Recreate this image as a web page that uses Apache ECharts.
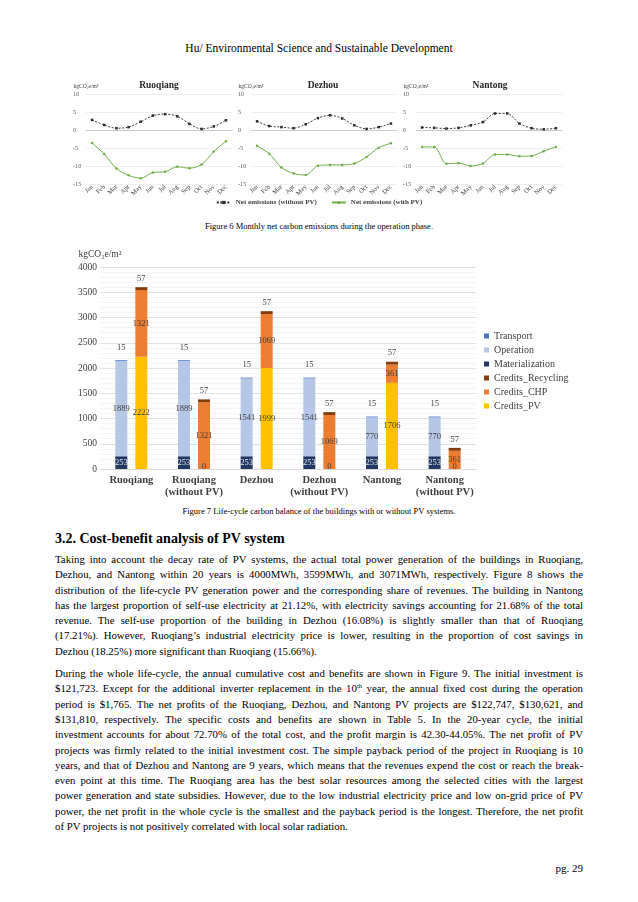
<!DOCTYPE html>
<html>
<head>
<meta charset="utf-8">
<script src="https://cdn.jsdelivr.net/npm/echarts@6/dist/echarts.min.js"></script>
<style>
html,body{margin:0;padding:0;background:#fff;}
#page{position:relative;width:638px;height:902px;overflow:hidden;font-family:"Liberation Serif","Times New Roman",serif;color:#000;}
.abs{position:absolute;}
.hdr{left:0;width:638px;text-align:center;font-size:11.5px;}
.cap{left:0;width:638px;text-align:center;font-size:8.5px;}
.h2{left:55px;font-size:14px;font-weight:bold;}
.body{left:55px;width:528px;font-size:10.8px;line-height:15.3px;}
.ln{white-space:nowrap;text-align:justify;text-align-last:justify;height:15.3px;overflow:visible;}
.ln.last{text-align-last:left;}
.gap{height:7px;}
sup{font-size:6.5px;line-height:0;vertical-align:4px;}
</style>
</head>
<body>
<div id="page">
  <div class="abs hdr" style="top:42px;">Hu/ Environmental Science and Sustainable Development</div>
  <div id="fig6" class="abs" style="left:0;top:60px;width:638px;height:160px;"></div>
  <div class="abs cap" style="top:221px;">Figure 6 Monthly net carbon emissions during the operation phase.</div>
  <div id="fig7" class="abs" style="left:0;top:240px;width:638px;height:265px;"></div>
  <div class="abs cap" style="top:506px;">Figure 7 Life-cycle carbon balance of the buildings with or without PV systems.</div>
  <div class="abs h2" style="top:531px;">3.2. Cost-benefit analysis of PV system</div>
  <div class="abs body" style="top:552px;">
    <div class="ln">Taking into account the decay rate of PV systems, the actual total power generation of the buildings in Ruoqiang,</div>
    <div class="ln">Dezhou, and Nantong within 20 years is 4000MWh, 3599MWh, and 3071MWh, respectively. Figure 8 shows the</div>
    <div class="ln">distribution of the life-cycle PV generation power and the corresponding share of revenues. The building in Nantong</div>
    <div class="ln">has the largest proportion of self-use electricity at 21.12%, with electricity savings accounting for 21.68% of the total</div>
    <div class="ln">revenue. The self-use proportion of the building in Dezhou (16.08%) is slightly smaller than that of Ruoqiang</div>
    <div class="ln">(17.21%). However, Ruoqiang’s industrial electricity price is lower, resulting in the proportion of cost savings in</div>
    <div class="ln last">Dezhou (18.25%) more significant than Ruoqiang (15.66%).</div>
    <div class="gap"></div>
    <div class="ln">During the whole life-cycle, the annual cumulative cost and benefits are shown in Figure 9. The initial investment is</div>
    <div class="ln">$121,723. Except for the additional inverter replacement in the 10<sup>th</sup> year, the annual fixed cost during the operation</div>
    <div class="ln">period is $1,765. The net profits of the Ruoqiang, Dezhou, and Nantong PV projects are $122,747, $130,621, and</div>
    <div class="ln">$131,810, respectively. The specific costs and benefits are shown in Table 5. In the 20-year cycle, the initial</div>
    <div class="ln">investment accounts for about 72.70% of the total cost, and the profit margin is 42.30-44.05%. The net profit of PV</div>
    <div class="ln">projects was firmly related to the initial investment cost. The simple payback period of the project in Ruoqiang is 10</div>
    <div class="ln">years, and that of Dezhou and Nantong are 9 years, which means that the revenues expend the cost or reach the break-</div>
    <div class="ln">even point at this time. The Ruoqiang area has the best solar resources among the selected cities with the largest</div>
    <div class="ln">power generation and state subsidies. However, due to the low industrial electricity price and low on-grid price of PV</div>
    <div class="ln">power, the net profit in the whole cycle is the smallest and the payback period is the longest. Therefore, the net profit</div>
    <div class="ln last">of PV projects is not positively correlated with local solar radiation.</div>
  </div>
  <div class="abs" style="top:862px;right:55px;font-size:11px;">pg. 29</div>
</div>
<script>
// fit any over-long justified line into the text column
document.querySelectorAll('.ln').forEach(el=>{
  let ls = 0;
  while (el.scrollWidth > el.clientWidth + 0.5 && ls > -0.6) { ls -= 0.05; el.style.letterSpacing = ls + 'px'; }
});

// ---------- Figure 6 data ----------
const months = ['Jan','Feb','Mar','Apr','May','Jun','Jul','Aug','Sep','Oct','Nov','Dec'];
const cities = ['Ruoqiang','Dezhou','Nantong'];
const ruoqiangNoPV = [2.8,1.4,0.5,0.8,2.3,4.0,4.4,3.8,1.7,0.3,1.0,2.7];
const ruoqiangPV   = [-3.6,-6.7,-10.7,-12.6,-13.4,-11.8,-11.6,-10.2,-10.6,-9.6,-6.0,-3.1];
const dezhouNoPV   = [2.4,1.1,0.8,0.5,1.6,3.3,4.1,3.2,1.3,0.3,0.8,1.8];
const dezhouPV     = [-4.4,-6.6,-10.4,-12.1,-12.5,-9.9,-9.7,-9.7,-9.3,-7.5,-4.9,-3.7];
const nantongNoPV  = [0.7,0.6,0.4,0.6,1.3,2.2,4.6,4.6,1.8,0.5,0.2,0.5];
const nantongPV    = [-4.7,-4.7,-9.4,-9.2,-10.0,-9.3,-6.8,-6.8,-7.3,-7.2,-5.9,-4.7];
const fig6Min = -15, fig6Max = 10, fig6Step = 5;
const nameNoPV = 'Net emissions (without PV)';
const namePV = 'Net emissions (with PV)';

// ---------- Figure 7 data ----------
const categories = ['Ruoqiang','Ruoqiang\n(without PV)','Dezhou','Dezhou\n(without PV)','Nantong','Nantong\n(without PV)'];
const materialization = [253,253,253,253,253,253];
const operation = [1889,1889,1541,1541,770,770];
const transport = [15,15,15,15,15,15];
const creditsPV = [2222,0,1999,0,1706,0];
const creditsCHP = [1321,1321,1069,1069,361,361];
const creditsRecycling = [57,57,57,57,57,57];
const fig7Max = 4000, fig7Step = 500;

const serif = '"Liberation Serif","Times New Roman",serif';

// ---------- Figure 6 ----------
const panelData = [[ruoqiangNoPV,ruoqiangPV],[dezhouNoPV,dezhouPV],[nantongNoPV,nantongPV]];
const gridLefts = [86,251,416];
const titleX = [154,318,485];
const f6 = echarts.init(document.getElementById('fig6'));
const o6 = {
  animation:false,
  title: cities.map((c,i)=>({text:c,left:titleX[i],top:16,textAlign:'center',
     textStyle:{fontFamily:serif,fontSize:9.5,fontWeight:'bold',color:'#262626'}})),
  legend:{top:134,left:'center',itemWidth:14,itemHeight:4,itemGap:14,
     textStyle:{fontFamily:serif,fontSize:7,fontWeight:'bold',color:'#404040'},
     data:[nameNoPV,namePV]},
  grid: gridLefts.map(l=>({left:l,top:34,width:146,height:90})),
  xAxis: gridLefts.map((l,i)=>({type:'category',gridIndex:i,data:months,
     axisLine:{onZero:true,lineStyle:{color:'#bfbfbf',width:0.8}},axisTick:{show:false},
     axisLabel:{rotate:45,fontFamily:serif,fontSize:6.5,color:'#404040',margin:2,interval:0}})),
  yAxis: gridLefts.map((l,i)=>({type:'value',gridIndex:i,min:fig6Min,max:fig6Max,interval:fig6Step,
     name:'kgCO₂e/m²',nameLocation:'end',nameGap:4,
     nameTextStyle:{fontFamily:serif,fontSize:5.5,color:'#404040',align:'center'},
     axisLine:{show:false},axisTick:{show:false},
     axisLabel:{fontFamily:serif,fontSize:6.2,color:'#595959',align:'left',margin:13},
     splitLine:{lineStyle:{color:'#e3e3e3',width:0.6}}})),
  series: []
};
panelData.forEach((d,i)=>{
  o6.series.push({name:nameNoPV,type:'line',xAxisIndex:i,yAxisIndex:i,data:d[0],smooth:0.3,
     symbol:'rect',symbolSize:2.5,itemStyle:{color:'#2b2b2b'},lineStyle:{color:'#2b2b2b',width:0.9,type:[2,1.5]}});
  o6.series.push({name:namePV,type:'line',xAxisIndex:i,yAxisIndex:i,data:d[1],smooth:0.3,
     symbol:'circle',symbolSize:2.5,itemStyle:{color:'#70AD47'},lineStyle:{color:'#70AD47',width:1}});
});
f6.setOption(o6);

// ---------- Figure 7 ----------
const f7 = echarts.init(document.getElementById('fig7'));
const lblBase = {fontFamily:serif,fontSize:8.5,color:'#404040'};
function zeroAware(arr){
  return arr.map(v=>v===0?{value:v,label:{position:'inside',offset:[0,-2]}}:v);
}
const o7 = {
  animation:false,
  legend:{orient:'vertical',left:479,top:86,itemWidth:5,itemHeight:5,itemGap:4,
     textStyle:{fontFamily:serif,fontSize:10,color:'#404040'},
     data:['Transport','Operation','Materialization','Credits_Recycling','Credits_CHP','Credits_PV'].map(n=>({name:n,icon:'rect'}))},
  grid:{left:100,top:27,width:376,height:202},
  xAxis:{type:'category',data:categories,
     axisLine:{lineStyle:{color:'#d9d9d9'}},axisTick:{show:false},
     axisLabel:{fontFamily:serif,fontSize:10.5,fontWeight:'bold',color:'#404040',lineHeight:12,margin:5,interval:0}},
  yAxis:{type:'value',min:0,max:fig7Max,interval:fig7Step,
     name:'kgCO₂e/m²',nameLocation:'end',nameGap:8,
     nameTextStyle:{fontFamily:serif,fontSize:9.5,color:'#404040',align:'center'},
     axisLine:{show:false},axisTick:{show:false},
     axisLabel:{fontFamily:serif,fontSize:9.5,color:'#404040',margin:3,formatter:v=>String(v)},
     splitLine:{lineStyle:{color:'#d9d9d9',width:0.8}},
     minorTick:{show:false,splitNumber:5},
     minorSplitLine:{show:true,lineStyle:{color:'#efefef',width:0.6}}},
  series:[
    {name:'Materialization',type:'bar',stack:'emis',data:materialization,barWidth:12,barGap:'67%',
     itemStyle:{color:'#203864'},label:{show:true,position:'inside',...lblBase,color:'#e8e8e8'}},
    {name:'Operation',type:'bar',stack:'emis',data:operation,itemStyle:{color:'#B4C7E7'},
     label:{show:true,position:'inside',...lblBase}},
    {name:'Transport',type:'bar',stack:'emis',data:transport,itemStyle:{color:'#4472C4'},
     label:{show:true,position:'top',distance:8,...lblBase}},
    {name:'Credits_PV',type:'bar',stack:'cred',data:zeroAware(creditsPV),barWidth:12,itemStyle:{color:'#FFC000'},
     label:{show:true,position:'inside',...lblBase}},
    {name:'Credits_CHP',type:'bar',stack:'cred',data:creditsCHP,itemStyle:{color:'#ED7D31'},
     label:{show:true,position:'inside',...lblBase}},
    {name:'Credits_Recycling',type:'bar',stack:'cred',data:creditsRecycling,itemStyle:{color:'#843C0C'},
     label:{show:true,position:'top',distance:4,...lblBase}}
  ]
};
f7.setOption(o7);
</script>
</body>
</html>
